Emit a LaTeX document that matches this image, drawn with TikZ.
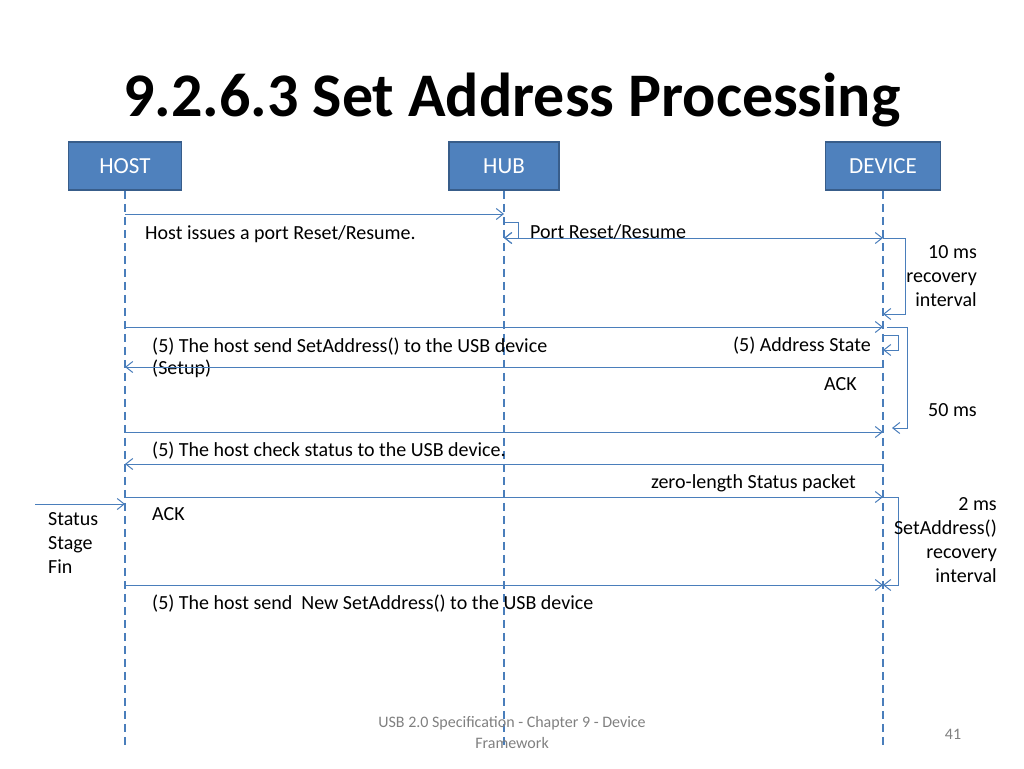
\documentclass[tikz,border=0pt]{standalone}
\usepackage{fontspec}
\setmainfont{Carlito}
\usetikzlibrary{arrows.meta,positioning}
\definecolor{boxfill}{HTML}{4F81BD}
\definecolor{boxline}{HTML}{385D8A}
\definecolor{msgline}{HTML}{4A7EBB}
\begin{document}
\begin{tikzpicture}
    [x=1pt, y=-1pt,
    actor/.style={draw=boxline, line width=1.5pt, fill=boxfill, text=white,
      minimum height=48pt, font=\fontsize{23}{23}\selectfont},
    life/.style={draw=msgline, dashed, dash pattern=on 8pt off 5pt, line width=1.2pt},
    msg/.style={draw=msgline, line width=1pt, -{Straight Barb[length=7pt,width=11pt]}},
    lbl/.style={font=\fontsize{20}{24}\selectfont, inner sep=0pt},
    every node/.style={anchor=base west}]
    \useasboundingbox (0,0) rectangle (1024,768);
    \node[font=\bfseries\fontsize{62}{62}\selectfont, anchor=base] (title) at (512,116) {9.2.6.3 Set Address Processing};
    % actors
    \node[actor, minimum width=113pt, anchor=center] (host) at (125,166) {HOST};
    \node[actor, minimum width=110pt, anchor=center] (hub) at (504,166) {HUB};
    \node[actor, minimum width=115pt, anchor=center] (dev) at (883,166) {DEVICE};
    \coordinate (hostE) at (125,745);
    \coordinate (hubE) at (504,745);
    \coordinate (devE) at (883,745);
    \draw[life] (host) -- (hostE);
    \draw[life] (hub) -- (hubE);
    \draw[life] (dev) -- (devE);
    % messages
    \draw[msg] (125,214) -- (504,214);
    \node[lbl] (m1) at (145,239) {Host issues a port Reset/Resume.};
    \draw[msg] (504,222) -- (518,222) -- (518,238) -- (504,238);
    \draw[msg, {Straight Barb[length=7pt,width=11pt]}-{Straight Barb[length=7pt,width=11pt]}] (504,238) -- (883,238);
    \node[lbl] (m2) at (530,238) {Port Reset/Resume};
    \draw[msg] (883,238) -- (905,238) -- (905,314) -- (883,314);
    \node[lbl, align=right, anchor=north east] (t1) at (977,245) {10 ms\\recovery\\interval};
    \draw[msg] (125,327) -- (883,327);
    \node[lbl] (m3) at (152,352) {(5) The host send SetAddress() to the USB device};
    \node[lbl] (m3b) at (152,374) {(Setup)};
    \draw[msg] (883,335) -- (898,335) -- (898,350) -- (883,350);
    \node[lbl, anchor=base east] (st) at (871,351) {(5) Address State};
    \draw[msg] (887,327) -- (907,327) -- (907,428) -- (892,428);
    \node[lbl] (t2) at (928,416) {50 ms};
    \draw[msg] (883,367) -- (125,367);
    \node[lbl] (ack1) at (824,390) {ACK};
    \draw[msg] (125,432) -- (883,432);
    \node[lbl] (m4) at (152,456) {(5) The host check status to the USB device.};
    \draw[msg] (883,464) -- (125,464);
    \node[lbl, anchor=base east] (zl) at (856,488) {zero-length Status packet};
    \coordinate (ext) at (35,504);
    \draw[msg] (ext) -- (125,504);
    \draw[msg] (125,497) -- (883,497);
    \node[lbl] (ack2) at (152,520) {ACK};
    \node[lbl, align=left, anchor=north west] (fin) at (48,512) {Status\\Stage\\Fin};
    \draw[msg] (883,497) -- (898,497) -- (898,585) -- (883,585);
    \node[lbl, align=right, anchor=north east] (t3) at (997,497) {2 ms\\SetAddress()\\recovery\\interval};
    \draw[msg] (125,585) -- (883,585);
    \node[lbl] (m5) at (152,609) {(5) The host send\ \ New SetAddress() to the USB device};
    % footer
    \node[align=center, anchor=center, text=gray, font=\fontsize{16}{21}\selectfont] (foot) at (512,732) {USB 2.0 Specification - Chapter 9 - Device\\Framework};
    \node[anchor=center, text=gray, font=\fontsize{16}{16}\selectfont] (pg) at (953,734) {41};
\end{tikzpicture}
\end{document}
